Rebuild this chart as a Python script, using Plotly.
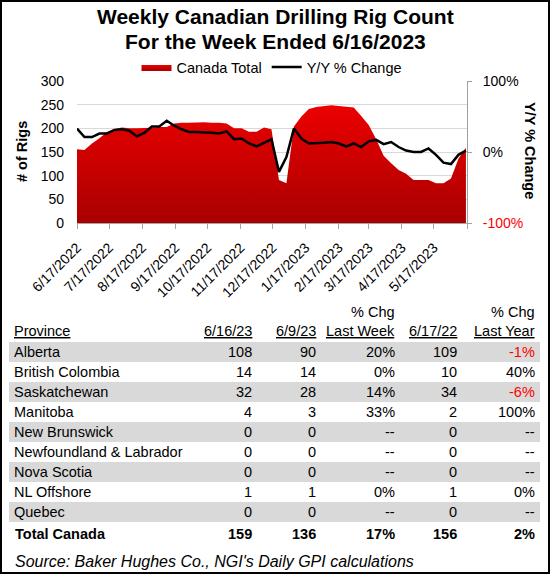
import plotly.graph_objects as go
import pandas as pd

# weekly data, 6/17/2022 .. 6/16/2023
weeks = pd.date_range("2022-06-17", "2023-06-16", freq="7D")

canada_total = [156, 154, 168, 179, 192, 198, 202, 200, 200, 200,
                201, 203, 203, 210, 212, 212, 213, 213, 212, 212,
                210, 200, 200, 193, 193, 202, 198, 91, 84, 204,
                225, 241, 245, 247, 249, 247, 245, 244, 226, 207,
                177, 142, 126, 112, 104, 91, 91, 91, 84, 84,
                94, 136, 159]

yoy_pct = [33, 21, 21, 26, 26, 31, 32, 30, 22, 27,
           36, 36, 44, 37, 32, 28, 28, 28, 27, 26,
           29, 18, 19, 12, 8, 13, 18, -28, -7, 33,
           19, 12, 12, 13, 14, 12, 8, 12, 7, 15,
           17, 11, 14, 7, 2, 0, 0, 5, -4, -15,
           -17, -4, 2]

x_tickvals = ["2022-06-17", "2022-07-17", "2022-08-17", "2022-09-17",
              "2022-10-17", "2022-11-17", "2022-12-17", "2023-01-17",
              "2023-02-17", "2023-03-17", "2023-04-17", "2023-05-17",
              "2023-06-17"]
x_ticktext = ["6/17/2022", "7/17/2022", "8/17/2022", "9/17/2022",
              "10/17/2022", "11/17/2022", "12/17/2022", "1/17/2023",
              "2/17/2023", "3/17/2023", "4/17/2023", "5/17/2023", ""]

# table
provinces = ["Alberta", "British Colombia", "Saskatchewan", "Manitoba",
             "New Brunswick", "Newfoundland & Labrador", "Nova Scotia",
             "NL Offshore", "Quebec"]
rigs_0616 = [108, 14, 32, 4, 0, 0, 0, 1, 0]
rigs_0609 = [90, 14, 28, 3, 0, 0, 0, 1, 0]
rigs_0617 = [109, 10, 34, 2, 0, 0, 0, 1, 0]

FONT = "Liberation Sans, Arial, sans-serif"
W, H = 550, 574
ML, MT, PW, PH = 77, 81, 390, 142


def px(x):
    return (x - ML) / PW


def py(y):
    return 1 - (y - MT) / PH


def pct(cur, prev):
    if prev == 0:
        return "--"
    return "%d%%" % round((cur / prev - 1) * 100)


fig = go.Figure()

fig.add_trace(go.Scatter(
    x=weeks, y=canada_total, name="Canada Total", mode="lines",
    line=dict(width=0, color="#dd0000"), fill="tozeroy",
    fillgradient=dict(type="vertical",
                      colorscale=[[0, "#a80000"], [1, "#ec0000"]]),
    yaxis="y"))
fig.add_trace(go.Scatter(
    x=weeks, y=yoy_pct, name="Y/Y % Change", mode="lines",
    line=dict(color="black", width=2.5), yaxis="y2"))

ann = []
shapes = []

# titles
ann.append(dict(text="<b>Weekly Canadian Drilling Rig Count</b>", x=px(275), y=py(17),
                font=dict(size=21)))
ann.append(dict(text="<b>For the Week Ended 6/16/2023</b>", x=px(275), y=py(42),
                font=dict(size=21)))
ann.append(dict(text="<b># of Rigs</b>", x=px(22), y=py(152), textangle=-90,
                font=dict(size=14.5)))
ann.append(dict(text="<b>Y/Y % Change</b>", x=px(530), y=py(150), textangle=90,
                font=dict(size=14.5)))

# table header
col_right = [254, 318, 397, 459, 537]
ann.append(dict(text="% Chg", x=px(col_right[2]), y=py(312), xanchor="right"))
ann.append(dict(text="% Chg", x=px(col_right[4]), y=py(312), xanchor="right"))
ann.append(dict(text="<u>Province</u>", x=px(12), y=py(331), xanchor="left"))
headers = ["6/16/23", "6/9/23", "Last Week", "6/17/22", "Last Year"]
for h, xr in zip(headers, col_right):
    ann.append(dict(text="<u>%s</u>" % h, x=px(xr), y=py(331), xanchor="right"))

for i, name in enumerate(provinces):
    yc = 352 + 20 * i
    if i % 2 == 0:
        shapes.append(dict(type="rect", xref="paper", yref="paper",
                           x0=px(9), x1=px(540), y0=py(yc + 10), y1=py(yc - 10),
                           fillcolor="#d9d9d9", line=dict(width=0), layer="below"))
    wk = pct(rigs_0616[i], rigs_0609[i])
    yr = pct(rigs_0616[i], rigs_0617[i])
    cells = [str(rigs_0616[i]), str(rigs_0609[i]), wk, str(rigs_0617[i]), yr]
    ann.append(dict(text=name, x=px(12), y=py(yc), xanchor="left"))
    for c, xr in zip(cells, col_right):
        color = "#ff0000" if c.startswith("-") and c != "--" else "black"
        ann.append(dict(text=c, x=px(xr), y=py(yc), xanchor="right",
                        font=dict(color=color)))

tot = [sum(rigs_0616), sum(rigs_0609), sum(rigs_0617)]
tot_cells = [str(tot[0]), str(tot[1]), pct(tot[0], tot[1]), str(tot[2]),
             pct(tot[0], tot[2])]
ann.append(dict(text="<b>Total Canada</b>", x=px(13), y=py(534), xanchor="left"))
for c, xr in zip(tot_cells, col_right):
    ann.append(dict(text="<b>%s</b>" % c, x=px(xr), y=py(534), xanchor="right"))

ann.append(dict(text="<i>Source: Baker Hughes Co., NGI's Daily GPI calculations</i>",
                x=px(13), y=py(561), xanchor="left", font=dict(size=16)))

for a in ann:
    a.setdefault("xref", "paper")
    a.setdefault("yref", "paper")
    a.setdefault("showarrow", False)
    a.setdefault("xanchor", "center")
    a.setdefault("yanchor", "middle")
    f = a.setdefault("font", {})
    f.setdefault("size", 14.5)
    f.setdefault("color", "black")
    f.setdefault("family", FONT)

# outer border
shapes.append(dict(type="rect", xref="paper", yref="paper",
                   x0=px(1), x1=px(549), y0=py(573), y1=py(1),
                   line=dict(color="black", width=2)))

fig.update_layout(
    width=W, height=H,
    margin=dict(l=ML, r=W - ML - PW, t=MT, b=H - MT - PH, pad=0),
    paper_bgcolor="white",
    plot_bgcolor="white",
    font=dict(family=FONT, size=14, color="black"),
    showlegend=True,
    legend=dict(orientation="h", x=0.5, xanchor="center", y=py(67),
                yanchor="middle", font=dict(size=14.5), bgcolor="rgba(0,0,0,0)",
                itemwidth=30, tracegroupgap=0),
    xaxis=dict(type="date", range=["2022-06-17", "2023-06-17"],
               tickvals=x_tickvals, ticktext=x_ticktext, tickangle=-45,
               ticks="outside", ticklen=5, tickcolor="#a6a6a6",
               showline=True, linecolor="#a6a6a6", linewidth=1,
               showgrid=False, zeroline=False, tickfont=dict(size=14),
               ticklabelstandoff=5),
    yaxis=dict(range=[0, 300], dtick=50, showgrid=True, gridcolor="#d9d9d9",
               zeroline=False, showline=False, ticks="",
               ticklabelstandoff=12, tickfont=dict(size=14)),
    yaxis2=dict(overlaying="y", side="right", range=[-100, 100],
                tickvals=[-100, 0, 100],
                ticktext=["<span style='color:#ff0000'>-100%</span>", "0%", "100%"],
                showgrid=False, zeroline=False, showline=True,
                linecolor="#a0a0a0", ticks="outside", ticklen=4,
                tickcolor="#a0a0a0", ticklabelstandoff=8, tickfont=dict(size=14)),
    annotations=ann,
    shapes=shapes,
)

# page body has an 8px default margin; drop it so the figure fills the window
fig.write_html("out.html", config={"displayModeBar": False},
               post_script="document.body.style.margin='0';")
